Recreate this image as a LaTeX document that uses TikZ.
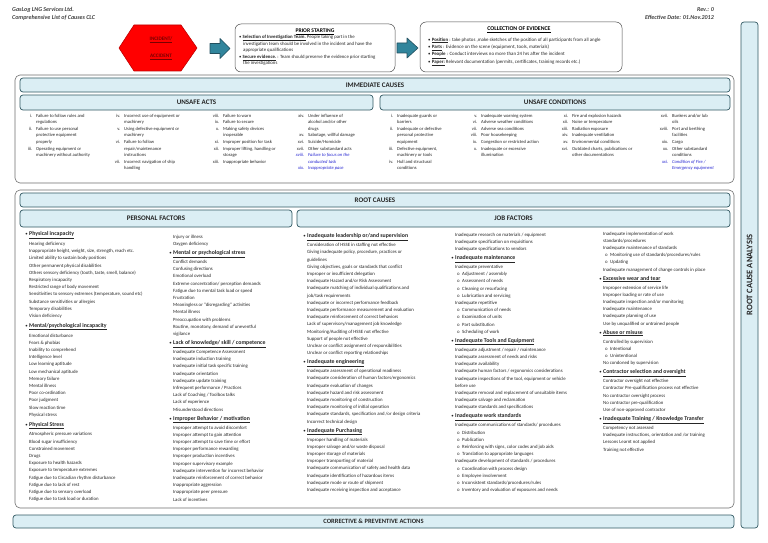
\documentclass[tikz,border=0pt]{standalone}
\usepackage{fontspec}
\setmainfont{Carlito}

\definecolor{barfill}{RGB}{219,238,244}
\definecolor{barline}{RGB}{49,89,99}
\definecolor{tealfill}{RGB}{49,133,156}
\definecolor{tealline}{RGB}{35,80,95}
\definecolor{hexred}{RGB}{255,0,0}
\definecolor{hexline}{RGB}{192,0,0}
\definecolor{hextext}{RGB}{120,0,0}
\definecolor{itblue}{RGB}{40,40,210}
\definecolor{panelline}{RGB}{110,110,110}

\tikzset{
  panel/.style={draw=panelline, fill=white, rounded corners=5pt, line width=0.6pt},
  notebox/.style={draw=black!70, fill=white, rounded corners=6pt, line width=0.5pt},
  hdrbar/.style={draw=barline, fill=barfill, rounded corners=3pt, line width=0.7pt, inner sep=0pt,
    font=\fontsize{7}{8}\selectfont\bfseries, text=black!85},
  hexa/.style={draw=hexline, fill=hexred, line width=0.6pt},
  blockarrow/.style={draw=tealline, fill=tealfill, line width=0.6pt},
  lst/.style={anchor=north west, inner sep=0pt, align=left, text=black!85},
  ualst/.style={lst, font=\fontsize{4.6}{6.6}\selectfont},
}
\newcommand{\rn}[1]{\makebox[10pt][r]{#1}\hspace{4pt}}
\newcommand{\hd}[1]{\llap{\textbullet\hspace{1.5pt}}{\fontsize{5.8}{7.2}\selectfont\bfseries\underline{#1}}}
\newcommand{\subit}[1]{\hspace{2pt}o\hspace{2.5pt}#1}
\newcommand{\bl}[1]{{\color{itblue}\itshape #1}}

\begin{document}
\begin{tikzpicture}[x=1pt, y=-1pt, line join=round, line cap=round, font=\fontsize{4.8}{7.2}\selectfont]
\useasboundingbox (0,0) rectangle (768,543);

% page head
\node[anchor=west, inner sep=0pt, align=left, font=\fontsize{6}{8}\selectfont\bfseries\itshape, text=black!75] (company) at (12,14) {GasLog LNG Services Ltd.\\Comprehensive List of Causes CLC};
\node[anchor=east, inner sep=0pt, align=right, font=\fontsize{6}{8}\selectfont\bfseries\itshape, text=black!75] (revision) at (714,14) {Rev.: 0\\Effective Date: 01.Nov.2012};

% block arrows
\path[blockarrow] (210,43.5) -- (220,43.5) -- (220,38.5) -- (230,48.5) -- (220,58.5) -- (220,53.5) -- (210,53.5) -- cycle;
\path[blockarrow] (397,43) -- (407,43) -- (407,38) -- (418,48) -- (407,58) -- (407,53) -- (397,53) -- cycle;

% incident
\draw[hexa] (119,48) -- (134,25) -- (181,25) -- (197,48) -- (181,71) -- (134,71) -- cycle;
\node[align=center, font=\fontsize{5.2}{6}\selectfont\bfseries, text=hextext] (incident) at (161,48) {\underline{INCIDENT/}\\[11pt]\underline{ACCIDENT}};

% prior starting
\draw[notebox] (235,24) rectangle (395,72);
\node[font=\fontsize{5.6}{6}\selectfont\bfseries] (prior) at (315,31.5) {\underline{PRIOR STARTING}};
\node[lst, font=\fontsize{4.8}{5.8}\selectfont] (priortxt) at (239,34.8) {\textbullet\ \textbf{\underline{Selection of Investigation Team.}} People taking part in the\\
\hspace{4pt}investigation team should be involved in the incident and have the\\
\hspace{4pt}appropriate qualifications\\[1.5pt]
\textbullet\ \textbf{\underline{Secure evidence.}} : Team should preserve the evidence prior starting\\
\hspace{4pt}the investigations};

% collection of evidence
\draw[notebox] (420,22) rectangle (622,72);
\node[font=\fontsize{5.8}{6}\selectfont\bfseries] (collect) at (519,30) {\underline{COLLECTION OF EVIDENCE}};
\node[lst, font=\fontsize{4.9}{7.4}\selectfont] (collecttxt) at (428,37.5) {\textbullet\ \textbf{\underline{Position}} : take photos ,make sketches of the position of all participants from all angle\\
\textbullet\ \textbf{\underline{Parts}} : Evidence on the scene (equipment, tools, materials)\\
\textbullet\ \textbf{\underline{People}} : Conduct interviews no more than 24 hrs after the incident\\
\textbullet\ \textbf{\underline{Paper:}} Relevant documentation (permits, certificates, training records etc.)};

\node[hdrbar, rotate=90, minimum width=506pt, minimum height=17pt, font=\fontsize{8.5}{9}\selectfont\bfseries] (rca) at (749.5,275) {ROOT CAUSE ANALYSIS};

% immediate causes
\draw[panel] (15,75) rectangle (734,183);
\node[hdrbar, minimum width=710pt, minimum height=14pt] (immediate) at (375,85) {IMMEDIATE CAUSES};
\node[hdrbar, minimum width=353pt, minimum height=15pt] (unsafeacts) at (196.5,102.5) {UNSAFE ACTS};
\node[hdrbar, minimum width=350pt, minimum height=15pt] (unsafecond) at (555,102.5) {UNSAFE CONDITIONS};

\node[ualst] (actsA) at (22,113.8) {\rn{i.}Failure to follow rules and\\ \rn{}regulations\\
\rn{ii.}Failure to use personal\\ \rn{}protective equipment\\ \rn{}properly\\
\rn{iii.}Operating equipment or\\ \rn{}machinery without authority};
\node[ualst] (actsB) at (110,113.8) {\rn{iv.}Incorrect use of equipment or\\ \rn{}machinery\\
\rn{v.}Using defective equipment or\\ \rn{}machinery\\
\rn{vi.}Failure to follow\\ \rn{}repair/maintenance\\ \rn{}instructions\\
\rn{vii.}Incorrect navigation of ship\\ \rn{}handling};
\node[ualst] (actsC) at (209,113.8) {\rn{viii.}Failure to warn\\ \rn{ix.}Failure to secure\\
\rn{x.}Making safety devices\\ \rn{}inoperable\\
\rn{xi.}Improper position for task\\
\rn{xii.}Improper lifting, handling or\\ \rn{}storage\\
\rn{xiii.}Inappropriate behavior};
\node[ualst] (actsD) at (294,113.8) {\rn{xiv.}Under influence of\\ \rn{}alcohol and/or other\\ \rn{}drugs\\
\rn{xv.}Sabotage, willful damage\\ \rn{xvi.}Suicide/Homicide\\ \rn{xvii.}Other substandard acts\\
\bl{\rn{xviii.}Failure to focus on the}\\ \bl{\rn{}conducted task}\\ \bl{\rn{xix.}Inappropriate pace}};

\node[ualst] (condE) at (383,113.8) {\rn{i.}Inadequate guards or\\ \rn{}barriers\\
\rn{ii.}Inadequate or defective\\ \rn{}personal protective\\ \rn{}equipment\\
\rn{iii.}Defective equipment,\\ \rn{}machinery or tools\\
\rn{iv.}Hull and structural\\ \rn{}conditions};
\node[ualst] (condF) at (467,113.8) {\rn{v.}Inadequate warning system\\ \rn{vi.}Adverse weather conditions\\
\rn{vii.}Adverse sea conditions\\ \rn{viii.}Poor housekeeping\\
\rn{ix.}Congestion or restricted action\\ \rn{x.}Inadequate or excessive\\ \rn{}illumination};
\node[ualst] (condG) at (558,113.8) {\rn{xi.}Fire and explosion hazards\\ \rn{xii.}Noise or temperature\\
\rn{xiii.}Radiation exposure\\ \rn{xiv.}Inadequate ventilation\\ \rn{xv.}Environmental conditions\\
\rn{xvi.}Outdated charts, publications or\\ \rn{}other documentations};
\node[ualst] (condH) at (658,113.8) {\rn{xvii.}Bunkers and/or lub\\ \rn{}oils\\
\rn{xviii.}Port and berthing\\ \rn{}facilities\\ \rn{xix.}Cargo\\
\rn{xx.}Other substandard\\ \rn{}conditions\\
\bl{\rn{xxi.}Condition of Fire /}\\ \bl{\rn{}Emergency equipment}};

% root causes
\draw[panel] (15,190) rectangle (734,508);
\node[hdrbar, minimum width=710pt, minimum height=14pt] (rootcauses) at (375,200) {ROOT CAUSES};
\node[hdrbar, minimum width=272pt, minimum height=17pt] (personal) at (156,218.5) {PERSONAL FACTORS};
\node[hdrbar, minimum width=433pt, minimum height=17pt] (job) at (513.5,218.5) {JOB FACTORS};

\node[lst] (persA) at (29,231.4) {\hd{Physical incapacity}\\[2.6pt]
Hearing deficiency\\ Inappropriate height, weight, size, strength, reach etc.\\
Limited ability to sustain body positions\\ Other permanent physical disabilities\\
Others sensory deficiency (tooth, taste, smell, balance)\\ Respiratory incapacity\\
Restricted range of body movement\\ Sensitivities to sensory extremes (temperature, sound etc)\\
Substance sensitivities or allergies\\ Temporary disabilities\\ Vision deficiency\\[2.6pt]
\hd{Mental/psychological incapacity}\\[2.6pt]
Emotional disturbance\\ Fears \& phobias\\ Inability to comprehend\\ Intelligence level\\
Low learning aptitude\\ Low mechanical aptitude\\ Memory failure\\ Mental illness\\
Poor co-ordination\\ Poor judgment\\ Slow reaction time\\ Physical stress\\[2.6pt]
\hd{Physical Stress}\\[2.6pt]
Atmospheric pressure variations\\ Blood sugar insufficiency\\ Constrained movement\\ Drugs\\
Exposure to health hazards\\ Exposure to temperature extremes\\
Fatigue due to Circadian rhythm disturbance\\ Fatigue due to lack of rest\\
Fatigue due to sensory overload\\ Fatigue due to task load or duration};

\node[lst] (persB) at (173,234.7) {Injury or illness\\ Oxygen deficiency\\[1.8pt]
\hd{Mental or psychological stress}\\[1.8pt]
Conflict demands\\ Confusing directions\\ Emotional overload\\
Extreme concentration/ perception demands\\ Fatigue due to mental task load or speed\\
Frustration\\ Meaningless or ``disregarding'' activities\\ Mental illness\\
Preoccupation with problems\\ Routine, monotony, demand of uneventful\\ vigilance\\[1.8pt]
\hd{Lack of knowledge/ skill / competence}\\[1.8pt]
Inadequate Competence Assessment\\ Inadequate induction training\\
Inadequate initial task specific training\\ Inadequate orientation\\ Inadequate update training\\
Infrequent performance / Practices\\ Lack of Coaching / Toolbox talks\\ Lack of experience\\
Misunderstood directions\\[1.8pt]
\hd{Improper Behavior / motivation}\\[1.8pt]
Improper attempt to avoid discomfort\\ Improper attempt to gain attention\\
Improper attempt to save time or effort\\ Improper performance rewarding\\
Improper production incentives\\ Improper supervisory example\\
Inadequate intervention for incorrect behavior\\ Inadequate reinforcement of correct behavior\\
Inappropriate aggression\\ Inappropriate peer pressure\\ Lack of incentives};

\node[lst] (jobA) at (307,233.4) {\hd{Inadequate leadership or/and supervision}\\[1.8pt]
Consideration of HSSE in staffing not effective\\
Giving inadequate policy, procedure, practices or\\ guidelines\\
Giving objectives, goals or standards that conflict\\ Improper or insufficient delegation\\
Inadequate Hazard and/or Risk Assessment\\
Inadequate matching of individual qualifications and\\ job/task requirements\\
Inadequate or incorrect performance feedback\\ Inadequate performance measurement and evaluation\\
Inadequate reinforcement of correct behaviors\\ Lack of supervisory/management job knowledge\\
Monitoring/Auditing of HSSE not effective\\ Support of people not effective\\
Unclear or conflict assignment of responsibilities\\ Unclear or conflict reporting relationships\\[1.8pt]
\hd{Inadequate engineering}\\[1.8pt]
Inadequate assessment of operational readiness\\
Inadequate consideration of human factors/ergonomics\\ Inadequate evaluation of changes\\
Inadequate hazard and risk assessment\\ Inadequate monitoring of construction\\
Inadequate monitoring of initial operation\\
Inadequate standards, specification and /or design criteria\\ Incorrect technical design\\[1.8pt]
\hd{Inadequate Purchasing}\\[1.8pt]
Improper handling of materials\\ Improper salvage and/or waste disposal\\
Improper storage of materials\\ Improper transporting of material\\
Inadequate communication of safety and health data\\
Inadequate identification of hazardous items\\ Inadequate mode or route of shipment\\
Inadequate receiving inspection and acceptance};

\node[lst] (jobB) at (455,232.6) {Inadequate research on materials / equipment\\
Inadequate specification on requisitions\\ Inadequate specifications to vendors\\[1.8pt]
\hd{Inadequate maintenance}\\[1.8pt]
Inadequate preventative\\ \subit{Adjustment / assembly}\\ \subit{Assessment of needs}\\
\subit{Cleaning or resurfacing}\\ \subit{Lubrication and servicing}\\
Inadequate repetitive\\ \subit{Communication of needs}\\ \subit{Examination of units}\\
\subit{Part substitution}\\ \subit{Scheduling of work}\\[1.8pt]
\hd{Inadequate Tools and Equipment}\\[1.8pt]
Inadequate adjustment / repair / maintenance\\ Inadequate assessment of needs and risks\\
Inadequate availability\\ Inadequate human factors / ergonomics considerations\\
Inadequate inspections of the tool, equipment or vehicle\\ before use\\
Inadequate removal and replacement of unsuitable items\\ Inadequate salvage and reclamation\\
Inadequate standards and specifications\\[1.8pt]
\hd{Inadequate work standards}\\[1.8pt]
Inadequate communications of standards/ procedures\\ \subit{Distribution}\\ \subit{Publication}\\
\subit{Reinforcing with signs, color codes and job aids}\\ \subit{Translation to appropriate languages}\\
Inadequate development of standards / procedures\\ \subit{Coordination with process design}\\
\subit{Employee involvement}\\ \subit{Inconsistent standards/procedures/rules}\\
\subit{Inventory and evaluation of exposures and needs}};

\node[lst] (jobC) at (603,231.6) {Inadequate implementation of work\\ standards/procedures\\
Inadequate maintenance of standards\\ \subit{Monitoring use of standards/procedures/rules}\\
\subit{Updating}\\ Inadequate management of change controls in place\\[1.8pt]
\hd{Excessive wear and tear}\\[1.8pt]
Improper extension of service life\\ Improper loading or rate of use\\
Inadequate inspection and/or monitoring\\ Inadequate maintenance\\
Inadequate planning of use\\ Use by unqualified or untrained people\\[1.8pt]
\hd{Abuse or misuse}\\[1.8pt]
Controlled by supervision\\ \subit{Intentional}\\ \subit{Unintentional}\\
No condoned by supervision\\[1.8pt]
\hd{Contractor selection and oversight}\\[1.8pt]
Contractor oversight not effective\\ Contractor Pre-qualification process not effective\\
No contractor oversight process\\ No contractor pre-qualification\\
Use of non-approved contractor\\[1.8pt]
\hd{Inadequate Training / Knowledge Transfer}\\[1.8pt]
Competency not assessed\\ Inadequate instructions, orientation and /or training\\
Lessons Learnt not applied\\ Training not effective};

% corrective actions
\node[hdrbar, minimum width=721pt, minimum height=13pt, font=\fontsize{6.5}{7}\selectfont\bfseries] (capa) at (373.5,521.5) {CORRECTIVE \& PREVENTIVE ACTIONS};
\end{tikzpicture}
\end{document}
